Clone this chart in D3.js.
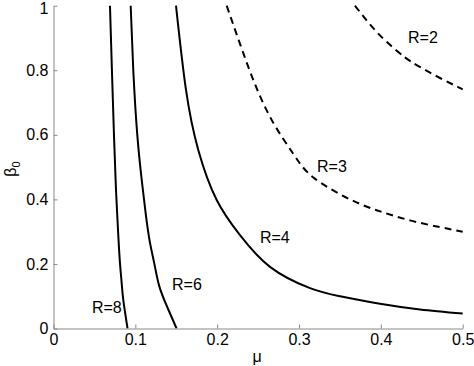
<!DOCTYPE html>
<html>
<head>
<meta charset="utf-8">
<script src="https://cdn.jsdelivr.net/npm/d3@7"></script>
<style>
  html, body { margin: 0; padding: 0; background: #fff; }
  svg { display: block; font-family: "Liberation Sans", Arial, sans-serif; }
</style>
</head>
<body>
<svg id="chart" width="474" height="366"></svg>
<script>
// ---- data ----
const xTicks = [0, 0.1, 0.2, 0.3, 0.4, 0.5];
const xTickLabels = ["0", "0.1", "0.2", "0.3", "0.4", "0.5"];
const yTicks = [0, 0.2, 0.4, 0.6, 0.8, 1];
const yTickLabels = ["0", "0.2", "0.4", "0.6", "0.8", "1"];

const curveNames = ["R=2", "R=3", "R=4", "R=6", "R=8"];
const curveDashed = [true, true, false, false, false];

const muR2   = [0.3684, 0.3867, 0.4071, 0.4295, 0.4458, 0.4723, 0.5];
const betaR2 = [1.0,    0.942,  0.888,  0.840,  0.813,  0.776,  0.741];

const muR3   = [0.2116, 0.2319, 0.2483, 0.2686, 0.2930, 0.3175, 0.3623, 0.3990, 0.4356, 0.4723, 0.5];
const betaR3 = [1.0,    0.853,  0.744,  0.637,  0.541,  0.468,  0.400,  0.363,  0.335,  0.314,  0.300];

const muR4   = [0.1497, 0.1619, 0.1769, 0.1994, 0.2279, 0.2645, 0.3134, 0.3501, 0.3990, 0.4478, 0.5];
const betaR4 = [1.0,    0.739,  0.553,  0.398,  0.289,  0.191,  0.125,  0.100,  0.0765, 0.0589, 0.0462];

const muR6   = [0.0943, 0.0975, 0.1024, 0.1078, 0.1124, 0.1173, 0.1232, 0.1295, 0.1395, 0.1504];
const betaR6 = [1.0,    0.799,  0.599,  0.460,  0.361,  0.274,  0.201,  0.129,  0.0635, 0.0];

const muR8   = [0.0690, 0.0714, 0.0739, 0.0759, 0.0769, 0.0792, 0.0813, 0.0832, 0.0853, 0.0905];
const betaR8 = [1.0,    0.799,  0.599,  0.460,  0.401,  0.287,  0.200,  0.144,  0.088,  0.0];

const curveMu   = [muR2, muR3, muR4, muR6, muR8];
const curveBeta = [betaR2, betaR3, betaR4, betaR6, betaR8];

// label anchor positions (data coords, left/baseline of text)
const labelMu   = [0.4332, 0.322, 0.2523, 0.1448, 0.047];
const labelBeta = [0.884, 0.4845, 0.2647, 0.119, 0.048];

// ---- drawing ----
const svg = d3.select("#chart");
const x = d3.scaleLinear().domain([0, 0.5]).range([53.5, 462.7]);
const y = d3.scaleLinear().domain([0, 1]).range([328.5, 5.7]);

const axisColor = "#888";

const xAxis = d3.axisBottom(x)
  .tickValues(xTicks)
  .tickFormat((d, i) => xTickLabels[i])
  .tickSizeInner(-4).tickSizeOuter(0).tickPadding(5);
const gx = svg.append("g").attr("transform", `translate(0,${y(0)})`).call(xAxis);

const yAxis = d3.axisLeft(y)
  .tickValues(yTicks)
  .tickFormat((d, i) => yTickLabels[i])
  .tickSizeInner(-4).tickSizeOuter(0).tickPadding(5);
const gy = svg.append("g").attr("transform", `translate(${x(0)},0)`).call(yAxis);

[gx, gy].forEach(g => {
  g.select(".domain").attr("stroke", axisColor).attr("stroke-width", 1);
  g.selectAll(".tick line").attr("stroke", axisColor).attr("stroke-width", 1);
  g.selectAll(".tick text").attr("fill", "#000")
    .style("font-family", "'Liberation Sans', Arial, sans-serif")
    .style("font-size", "16px");
});
// keep the top "1" label inside the page
gy.selectAll(".tick text").filter((d, i) => yTicks[i] === 1).attr("dy", "0.5em");

// clip to plot area
svg.append("clipPath").attr("id", "clip")
  .append("rect").attr("x", x(0)).attr("y", y(1) - 1)
  .attr("width", x(0.5) - x(0) + 2).attr("height", y(0) - y(1) + 1);

const line = d3.line()
  .x(d => x(d[0])).y(d => y(d[1]))
  .curve(d3.curveNatural);

const plot = svg.append("g").attr("clip-path", "url(#clip)");
curveNames.forEach((name, i) => {
  const pts = curveMu[i].map((m, j) => [m, curveBeta[i][j]]);
  plot.append("path")
    .datum(pts)
    .attr("d", line)
    .attr("fill", "none")
    .attr("stroke", "#000")
    .attr("stroke-width", 2)
    .attr("stroke-dasharray", curveDashed[i] ? "7,5" : null);
});

// curve labels
curveNames.forEach((name, i) => {
  svg.append("text")
    .attr("x", x(labelMu[i]))
    .attr("y", y(labelBeta[i]))
    .attr("font-size", 16)
    .attr("fill", "#000")
    .text(name);
});

// axis titles
svg.append("text")
  .attr("x", (x(0) + x(0.5)) / 2 - 1)
  .attr("y", 362)
  .attr("text-anchor", "middle")
  .attr("font-size", 16)
  .text("μ");

const yl = svg.append("text")
  .attr("transform", `translate(16,${(y(0) + y(1)) / 2 + 2}) rotate(-90)`)
  .attr("text-anchor", "middle")
  .attr("font-size", 16);
yl.append("tspan").text("β");
yl.append("tspan").attr("font-size", 11).attr("dy", 4).text("0");
</script>
</body>
</html>
